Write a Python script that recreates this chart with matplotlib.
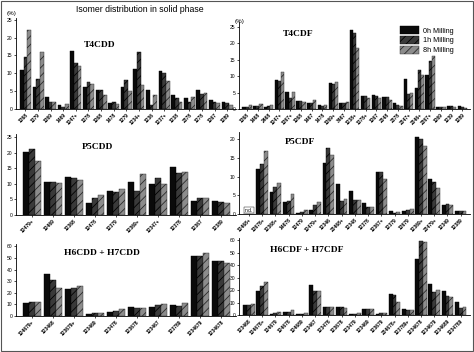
import matplotlib
matplotlib.use("Agg")
import matplotlib.pyplot as plt
import numpy as np
from matplotlib.patches import Rectangle, Patch

plt.rcParams['hatch.linewidth'] = 0.6
plt.rcParams['font.family'] = ['Liberation Sans', 'DejaVu Sans']

series_names = ["0h Milling", "1h Milling", "8h Milling"]

t4cdd_labels = ["1368", "1379", "1369", "1469", "1247+", "1378", "1268", "1478", "1279",
                "1234+", "1236", "1237+", "1238", "2378", "1278", "1267", "1289"]
t4cdd_0h = [11, 6.2, 3.3, 1.0, 16.2, 6.3, 5.3, 1.6, 6.2, 11.2, 5.2, 10.7, 3.8, 3.0, 5.2, 2.5, 2.1]
t4cdd_1h = [14.5, 8.5, 2.0, 0.5, 13.0, 7.5, 5.3, 2.0, 8.1, 16.0, 1.0, 10.0, 3.2, 2.0, 4.3, 2.0, 1.6]
t4cdd_8h = [22.0, 16.0, 2.0, 1.5, 12.0, 7.0, 4.0, 1.5, 5.0, 6.8, 3.8, 7.8, 2.1, 3.5, 4.4, 1.6, 1.2]

t4cdf_labels = ["1368", "1468", "2468", "1247+", "1367+", "1268", "1467", "1478", "1369+", "3467",
                "1238+", "1378+", "1267", "2348", "2378", "2347+", "2346+", "2367+", "1269", "1239", "1289"]
t4cdf_0h = [0.6, 0.8, 0.6, 8.8, 5.1, 2.4, 1.8, 1.2, 8.0, 1.8, 24.0, 4.0, 4.3, 3.8, 1.7, 9.2, 6.3, 10.5, 0.6, 0.9, 0.8]
t4cdf_1h = [0.7, 0.9, 0.9, 8.5, 3.5, 2.3, 1.8, 1.0, 7.7, 1.8, 23.0, 4.0, 4.0, 3.6, 1.1, 4.6, 12.0, 14.7, 0.6, 0.8, 0.6]
t4cdf_8h = [1.2, 1.4, 1.2, 11.3, 5.3, 2.0, 2.7, 1.3, 8.2, 2.0, 18.5, 3.5, 3.2, 2.8, 0.9, 5.0, 10.3, 16.0, 0.6, 0.6, 0.3]

p5cdd_labels = ["12479+", "12469", "12368", "12478", "12379", "12369+", "12347+", "12378", "12367", "12389"]
p5cdd_0h = [20.3, 10.6, 12.2, 3.8, 7.6, 10.6, 9.8, 15.4, 4.5, 4.5]
p5cdd_1h = [21.2, 10.6, 12.0, 5.5, 7.3, 7.7, 12.0, 13.4, 5.3, 4.1]
p5cdd_8h = [17.2, 10.2, 11.2, 6.5, 8.4, 13.1, 9.9, 13.8, 5.6, 3.9]

p5cdf_labels = ["13468+", "13678+", "12368+", "14678", "13479", "12479+", "12346", "23468+", "12348",
                "12378", "12367+", "12379", "13679", "12369+", "23479+", "12349", "12389"]
p5cdf_0h = [0, 12.0, 6.0, 3.3, 0.3, 1.1, 13.8, 8.0, 6.3, 2.9, 11.3, 0.8, 0.9, 20.6, 9.3, 2.3, 0.8]
p5cdf_1h = [0, 13.5, 7.3, 3.4, 0.6, 2.3, 17.7, 3.5, 3.7, 2.0, 11.3, 0.4, 1.2, 20.2, 8.6, 2.6, 0.7]
p5cdf_8h = [0, 16.8, 8.3, 5.4, 1.0, 3.2, 15.7, 4.0, 3.7, 1.8, 9.5, 0.6, 1.3, 18.2, 7.0, 2.3, 0.7]

h6cdd_labels = ["124679+", "123468", "123679+", "123469", "123478", "123678", "123467", "123789",
                "1234679", "1234678"]
h6cdd_0h = [11.0, 36.0, 23.0, 2.0, 3.5, 7.5, 7.5, 9.5, 52.0, 47.5]
h6cdd_1h = [12.3, 31.0, 24.3, 2.5, 4.5, 7.2, 9.3, 8.8, 52.0, 47.5]
h6cdd_8h = [12.3, 24.5, 26.0, 3.0, 6.0, 7.0, 10.2, 11.5, 54.0, 46.0]

h6cdf_labels = ["123468", "134678+", "134679", "124678", "124689", "123467", "123478", "123678",
                "123479", "123469", "123679", "234678+", "123789+", "1234678", "1234679", "1234689", "1234789"]
h6cdf_0h = [8.3, 19.0, 1.0, 2.3, 1.0, 24.0, 6.5, 6.2, 0.8, 5.0, 1.2, 17.0, 4.8, 45.3, 25.0, 19.0, 10.3]
h6cdf_1h = [8.3, 23.5, 1.8, 2.8, 1.0, 19.5, 6.3, 6.2, 0.8, 4.5, 1.5, 16.3, 3.8, 59.5, 18.3, 15.5, 6.0]
h6cdf_8h = [8.8, 26.3, 2.5, 3.8, 1.5, 19.0, 6.3, 6.0, 1.3, 4.5, 1.8, 10.5, 3.7, 58.5, 20.0, 14.5, 6.8]

W, H = 474, 352
fig = plt.figure(figsize=(W / 100, H / 100), dpi=100)

def rect(l, r, b, t):
    return [l / W, 1 - b / H, (r - l) / W, (b - t) / H]

def fp(x, y):
    return (x / W, 1 - y / H)

styles = [dict(color='#0a0a0a', edgecolor='black', hatch=None),
          dict(color='#3a3a3a', edgecolor='black', hatch='////'),
          dict(color='#8c8c8c', edgecolor='#2a2a2a', hatch='////')]

def panel(box, labels, vals, ylim, yticks, title, title_pos):
    ax = fig.add_axes(rect(*box))
    n = len(labels)
    x = np.arange(n)
    w = 0.29
    for k, v in enumerate(vals):
        st = styles[k]
        ax.bar(x + (k - 1) * w, v, w, color=st['color'], edgecolor=st['edgecolor'],
               hatch=st['hatch'], linewidth=0.3)
    ax.set_xlim(-0.75, n - 0.3)
    ax.set_ylim(*ylim)
    ax.set_yticks(yticks)
    ax.tick_params(axis='y', labelsize=3.6, length=1.5, width=0.5, pad=1)
    ax.set_xticks(x)
    ax.set_xticklabels(labels, rotation=45, ha='right', rotation_mode='anchor',
                       fontsize=3.6, fontweight='bold')
    ax.tick_params(axis='x', length=1.5, width=0.5, pad=1)
    for s in ['top', 'right']:
        ax.spines[s].set_visible(False)
    for s in ['left', 'bottom']:
        ax.spines[s].set_linewidth(0.6)
    fig.text(*fp(*title_pos), title, family='Liberation Serif', fontweight='bold',
             fontsize=6.8, ha='center', va='center')
    return ax

panel((16, 236, 109, 18), t4cdd_labels, [t4cdd_0h, t4cdd_1h, t4cdd_8h], (0, 25.5),
      [0, 5, 10, 15, 20, 25], "T4CDD", (100, 45))
ax2 = panel((239, 470, 109, 22), t4cdf_labels, [t4cdf_0h, t4cdf_1h, t4cdf_8h], (0, 26.5),
            [0, 5, 10, 15, 20, 25], "T4CDF", (298, 34))
panel((16, 236, 215, 134), p5cdd_labels, [p5cdd_0h, p5cdd_1h, p5cdd_8h], (0, 26),
      [0, 5, 10, 15, 20, 25], "P5CDD", (97, 147))
ax4 = panel((239, 470, 214, 132), p5cdf_labels, [p5cdf_0h, p5cdf_1h, p5cdf_8h], (0, 22),
            [0, 5, 10, 15, 20], "P5CDF", (300, 142))
panel((16, 236, 316, 244), h6cdd_labels, [h6cdd_0h, h6cdd_1h, h6cdd_8h], (0, 62),
      [0, 10, 20, 30, 40, 50, 60], "H6CDD + H7CDD", (102, 253))
panel((239, 470, 315, 238), h6cdf_labels, [h6cdf_0h, h6cdf_1h, h6cdf_8h], (0, 62),
      [0, 10, 20, 30, 40, 50, 60], "H6CDF + H7CDF", (307, 250))

ax4.text(0, 0.4, "n.d.", fontsize=3.5, ha='center', va='bottom',
         bbox=dict(boxstyle='square,pad=0.2', fc='white', ec='black', lw=0.3))

fig.text(*fp(12, 13), "(%)", fontsize=4.5, ha='center', va='center')
fig.text(*fp(240, 22), "(%)", fontsize=4.5, ha='center', va='center')
fig.text(*fp(140, 10), "Isomer distribution in solid phase", fontsize=6.3,
         ha='center', va='center')

handles = [Patch(facecolor=s['color'], edgecolor=s['edgecolor'], hatch=s['hatch'], linewidth=0.3)
           for s in styles]
fig.legend(handles, series_names, loc='upper left', bbox_to_anchor=fp(396, 22),
           frameon=False, fontsize=5.2, handlelength=2.6, handleheight=1.3,
           labelspacing=0.2, handletextpad=0.5, borderpad=0.1)

fig.add_artist(Rectangle((0.002, 0.002), 0.996, 0.996, transform=fig.transFigure,
                         fill=False, edgecolor='#555555', linewidth=0.8))

fig.savefig("out.png", dpi=100)
